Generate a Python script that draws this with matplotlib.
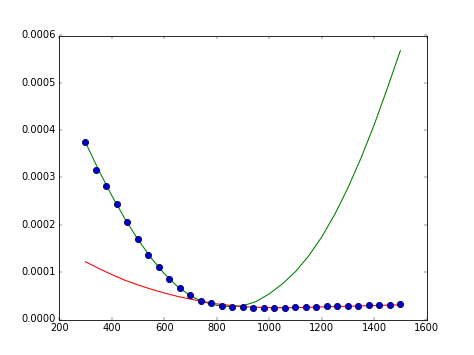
import numpy as np
import matplotlib
matplotlib.use("Agg")
import matplotlib.pyplot as plt

plt.style.use("classic")

# measured points
pts_x = [300, 340, 380, 420, 460, 500, 540, 580, 620, 660, 700, 740, 780, 820, 860, 900,
         940, 980, 1020, 1060, 1100, 1140, 1180, 1220, 1260, 1300, 1340, 1380, 1420, 1460, 1500]
pts_y = [3.76, 3.15, 2.82, 2.44, 2.05, 1.70, 1.37, 1.10, 0.86, 0.67, 0.52, 0.40, 0.34, 0.28, 0.26, 0.26,
         0.25, 0.25, 0.25, 0.245, 0.26, 0.26, 0.27, 0.28, 0.28, 0.29, 0.29, 0.30, 0.30, 0.31, 0.32]

# green curve
green_x = [300, 350, 400, 450, 500, 550, 600, 650, 700, 750, 800, 850, 900, 950, 1000,
           1050, 1100, 1150, 1200, 1250, 1300, 1350, 1400, 1450, 1500]
green_y = [3.74, 3.16, 2.62, 2.13, 1.69, 1.30, 0.97, 0.70, 0.50, 0.37, 0.30, 0.27, 0.29, 0.38, 0.54,
           0.75, 1.01, 1.34, 1.74, 2.22, 2.78, 3.41, 4.11, 4.88, 5.68]

# red curve
red_x = [300, 350, 400, 450, 500, 550, 600, 650, 700, 750, 800, 850, 900, 950, 1000,
         1100, 1200, 1300, 1400, 1500]
red_y = [1.22, 1.08, 0.95, 0.83, 0.73, 0.64, 0.56, 0.49, 0.43, 0.38, 0.33, 0.30, 0.27, 0.26, 0.25,
         0.25, 0.265, 0.28, 0.295, 0.31]

scale = 1e-4

fig = plt.figure(figsize=(8, 355 / 59.25), dpi=59.25)
ax = fig.add_subplot(111)
ax.plot(green_x, np.array(green_y) * scale, "g-", linewidth=1.3)
ax.plot(red_x, np.array(red_y) * scale, "r-", linewidth=1.3)
ax.plot(pts_x, np.array(pts_y) * scale, "o", color="#0000c8", markersize=7.5,
        markeredgecolor="#000060", markeredgewidth=1.0)
ax.set_xlim(200, 1600)
ax.set_ylim(0, 0.0006)

fig.savefig("out.png", dpi=59.25)
